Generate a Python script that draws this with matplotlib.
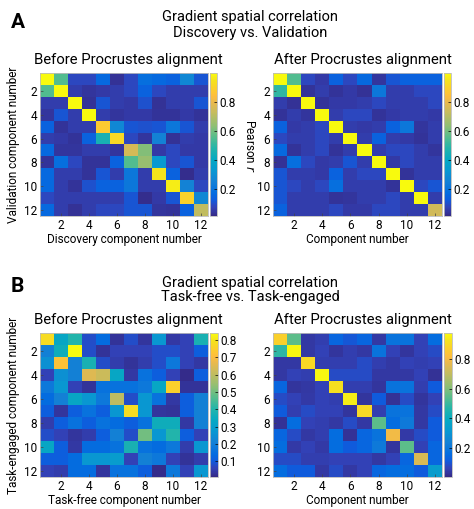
import numpy as np
import matplotlib
matplotlib.use("Agg")
import matplotlib.pyplot as plt
from matplotlib.colors import LinearSegmentedColormap

plt.rcParams["font.family"] = ["Roboto", "DejaVu Sans"]

# correlation matrices (rows = validation / task-engaged)
disc_before = [
    [1.00, 0.55, 0.08, 0.08, 0.16, 0.03, 0.08, 0.18, 0.16, 0.14, 0.27, 0.11],
    [0.55, 1.00, 0.06, 0.04, 0.05, 0.06, 0.08, 0.14, 0.08, 0.06, 0.06, 0.06],
    [0.06, 0.06, 1.00, 0.03, 0.11, 0.06, 0.05, 0.10, 0.03, 0.06, 0.06, 0.11],
    [0.04, 0.11, 0.06, 1.00, 0.06, 0.04, 0.05, 0.05, 0.035, 0.035, 0.05, 0.035],
    [0.14, 0.035, 0.06, 0.06, 0.88, 0.27, 0.11, 0.10, 0.11, 0.21, 0.11, 0.06],
    [0.06, 0.05, 0.035, 0.14, 0.45, 0.92, 0.08, 0.04, 0.25, 0.03, 0.06, 0.05],
    [0.16, 0.04, 0.04, 0.06, 0.06, 0.04, 0.76, 0.62, 0.05, 0.08, 0.05, 0.05],
    [0.035, 0.18, 0.08, 0.035, 0.035, 0.14, 0.55, 0.65, 0.33, 0.08, 0.11, 0.05],
    [0.16, 0.06, 0.06, 0.035, 0.11, 0.06, 0.21, 0.06, 0.95, 0.14, 0.02, 0.06],
    [0.16, 0.06, 0.035, 0.10, 0.14, 0.14, 0.21, 0.06, 0.06, 0.97, 0.25, 0.08],
    [0.08, 0.06, 0.06, 0.06, 0.06, 0.06, 0.11, 0.02, 0.05, 0.11, 0.90, 0.27],
    [0.16, 0.06, 0.03, 0.06, 0.08, 0.08, 0.11, 0.11, 0.04, 0.035, 0.14, 0.72],
]
disc_after = [
    [1.00, 0.55, 0.08, 0.05, 0.14, 0.08, 0.16, 0.04, 0.11, 0.14, 0.14, 0.14],
    [0.50, 1.00, 0.035, 0.06, 0.035, 0.05, 0.03, 0.21, 0.06, 0.06, 0.08, 0.08],
    [0.06, 0.03, 1.00, 0.035, 0.05, 0.05, 0.06, 0.08, 0.06, 0.06, 0.06, 0.08],
    [0.035, 0.06, 0.04, 1.00, 0.06, 0.08, 0.08, 0.035, 0.05, 0.06, 0.06, 0.05],
    [0.14, 0.05, 0.06, 0.08, 1.00, 0.06, 0.05, 0.06, 0.14, 0.21, 0.04, 0.06],
    [0.08, 0.06, 0.06, 0.08, 0.06, 1.00, 0.06, 0.14, 0.06, 0.05, 0.035, 0.06],
    [0.16, 0.035, 0.06, 0.08, 0.035, 0.06, 1.00, 0.06, 0.08, 0.08, 0.06, 0.04],
    [0.03, 0.18, 0.08, 0.05, 0.06, 0.11, 0.06, 1.00, 0.05, 0.08, 0.06, 0.06],
    [0.11, 0.06, 0.06, 0.05, 0.14, 0.06, 0.08, 0.08, 1.00, 0.035, 0.06, 0.06],
    [0.11, 0.08, 0.06, 0.08, 0.18, 0.06, 0.06, 0.06, 0.035, 1.00, 0.08, 0.11],
    [0.11, 0.06, 0.06, 0.06, 0.035, 0.04, 0.06, 0.06, 0.08, 0.06, 1.00, 0.06],
    [0.14, 0.06, 0.06, 0.06, 0.08, 0.05, 0.05, 0.08, 0.08, 0.06, 0.06, 0.75],
]
task_before = [
    [0.78, 0.33, 0.40, 0.08, 0.14, 0.03, 0.08, 0.035, 0.27, 0.04, 0.06, 0.38],
    [0.21, 0.36, 0.84, 0.08, 0.03, 0.06, 0.06, 0.06, 0.08, 0.08, 0.06, 0.11],
    [0.25, 0.72, 0.21, 0.38, 0.08, 0.05, 0.03, 0.05, 0.08, 0.18, 0.06, 0.04],
    [0.06, 0.25, 0.21, 0.65, 0.62, 0.33, 0.04, 0.16, 0.11, 0.06, 0.015, 0.11],
    [0.18, 0.27, 0.06, 0.03, 0.16, 0.16, 0.16, 0.18, 0.33, 0.75, 0.03, 0.03],
    [0.14, 0.21, 0.33, 0.27, 0.18, 0.60, 0.08, 0.27, 0.16, 0.04, 0.11, 0.21],
    [0.11, 0.035, 0.11, 0.16, 0.11, 0.27, 0.78, 0.27, 0.035, 0.03, 0.11, 0.21],
    [0.05, 0.11, 0.16, 0.11, 0.16, 0.14, 0.11, 0.16, 0.36, 0.36, 0.04, 0.21],
    [0.08, 0.06, 0.035, 0.05, 0.11, 0.21, 0.08, 0.50, 0.27, 0.40, 0.11, 0.06],
    [0.33, 0.11, 0.04, 0.14, 0.14, 0.16, 0.38, 0.16, 0.14, 0.18, 0.05, 0.27],
    [0.11, 0.11, 0.14, 0.27, 0.27, 0.29, 0.06, 0.21, 0.18, 0.06, 0.03, 0.05],
    [0.06, 0.05, 0.14, 0.14, 0.035, 0.16, 0.16, 0.11, 0.015, 0.18, 0.06, 0.27],
]
task_after = [
    [0.88, 0.55, 0.035, 0.05, 0.14, 0.10, 0.14, 0.035, 0.18, 0.18, 0.06, 0.16],
    [0.48, 0.97, 0.035, 0.06, 0.03, 0.05, 0.035, 0.18, 0.06, 0.03, 0.06, 0.08],
    [0.035, 0.035, 0.90, 0.05, 0.05, 0.05, 0.08, 0.05, 0.035, 0.06, 0.05, 0.06],
    [0.035, 0.06, 0.05, 0.97, 0.08, 0.08, 0.08, 0.035, 0.035, 0.035, 0.06, 0.02],
    [0.14, 0.03, 0.035, 0.06, 0.92, 0.05, 0.05, 0.03, 0.18, 0.18, 0.05, 0.11],
    [0.08, 0.06, 0.04, 0.06, 0.05, 0.95, 0.03, 0.11, 0.02, 0.08, 0.03, 0.06],
    [0.11, 0.05, 0.08, 0.06, 0.06, 0.03, 0.90, 0.05, 0.18, 0.18, 0.035, 0.08],
    [0.02, 0.16, 0.06, 0.05, 0.035, 0.08, 0.035, 0.55, 0.16, 0.21, 0.035, 0.11],
    [0.14, 0.08, 0.035, 0.05, 0.16, 0.02, 0.14, 0.18, 0.80, 0.04, 0.08, 0.11],
    [0.16, 0.04, 0.06, 0.04, 0.16, 0.11, 0.14, 0.21, 0.03, 0.55, 0.06, 0.14],
    [0.08, 0.08, 0.05, 0.05, 0.06, 0.06, 0.06, 0.035, 0.06, 0.14, 0.75, 0.14],
    [0.16, 0.11, 0.11, 0.035, 0.08, 0.035, 0.06, 0.14, 0.16, 0.16, 0.11, 0.33],
]

comp_ticks = [2, 4, 6, 8, 10, 12]
clims = [(0.01, 1.0), (0.01, 1.0), (0.01, 0.84), (0.0, 0.98)]
cbar_ticks = [
    [0.2, 0.4, 0.6, 0.8],
    [0.2, 0.4, 0.6, 0.8],
    [0.1, 0.2, 0.3, 0.4, 0.5, 0.6, 0.7, 0.8],
    [0.2, 0.4, 0.6, 0.8],
]

# MATLAB parula, sampled
parula = LinearSegmentedColormap.from_list("parula", [
    (0.000, (0.2081, 0.1663, 0.5292)),
    (0.063, (0.1959, 0.2645, 0.7279)),
    (0.111, (0.0591, 0.3598, 0.8683)),
    (0.159, (0.0165, 0.4266, 0.8786)),
    (0.238, (0.0779, 0.5040, 0.8384)),
    (0.317, (0.0343, 0.5966, 0.8199)),
    (0.397, (0.0267, 0.6642, 0.7607)),
    (0.476, (0.1453, 0.7098, 0.6646)),
    (0.556, (0.3482, 0.7424, 0.5473)),
    (0.635, (0.5709, 0.7485, 0.4494)),
    (0.714, (0.7525, 0.7384, 0.3768)),
    (0.794, (0.9139, 0.7258, 0.3063)),
    (0.841, (0.9938, 0.7455, 0.2403)),
    (0.889, (0.9880, 0.8066, 0.1794)),
    (0.952, (0.9589, 0.8949, 0.1132)),
    (1.000, (0.9763, 0.9831, 0.0538)),
])

W, H = 474, 509
fig = plt.figure(figsize=(W / 100, H / 100), dpi=100)


def px_axes(x0, y0, x1, y1):
    return fig.add_axes([x0 / W, 1 - y1 / H, (x1 - x0) / W, (y1 - y0) / H])


def heatmap(mat, box, cbox, clim, cticks, xlabel, ylabel=None):
    ax = px_axes(*box)
    im = ax.imshow(np.array(mat), cmap=parula, vmin=clim[0], vmax=clim[1],
                   aspect="auto", interpolation="nearest",
                   extent=(0.5, 12.5, 12.5, 0.5))
    ax.set_xticks(comp_ticks)
    ax.set_yticks(comp_ticks)
    ax.tick_params(labelsize=8.5, length=2, width=0.5, direction="in",
                   color="#444444", pad=2)
    ax.set_xlabel(xlabel, fontsize=8.5, labelpad=1)
    if ylabel:
        ax.set_ylabel(ylabel, fontsize=8.5, labelpad=3)
    for s in ax.spines.values():
        s.set_color("#bbbbbb")
        s.set_linewidth(0.6)
    cax = px_axes(*cbox)
    cb = fig.colorbar(im, cax=cax, ticks=cticks)
    cb.ax.tick_params(labelsize=8.5, length=2, width=0.5, direction="in", pad=2)
    cb.outline.set_edgecolor("#bbbbbb")
    cb.outline.set_linewidth(0.6)
    return ax


heatmap(disc_before, (40, 73, 208, 216), (210, 73, 217, 216), clims[0], cbar_ticks[0],
        "Discovery component number", "Validation component number")
heatmap(disc_after, (273, 73, 442, 216), (444, 73, 451, 216), clims[1], cbar_ticks[1],
        "Component number")
heatmap(task_before, (40, 333, 208, 477), (210, 333, 218, 477), clims[2], cbar_ticks[2],
        "Task-free component number", "Task-engaged component number")
heatmap(task_after, (273, 333, 442, 477), (444, 333, 452, 477), clims[3], cbar_ticks[3],
        "Component number")

fig.text(249 / W, 1 - 146 / H, "Pearson $r$", rotation=-90, fontsize=8.5,
         ha="center", va="center")


def ftext(x, y, s, **kw):
    fig.text(x / W, 1 - y / H, s, **kw)


ftext(11, 28, "A", fontsize=15, fontweight="bold", va="baseline")
ftext(11, 292, "B", fontsize=15, fontweight="bold", va="baseline")
ftext(250, 21, "Gradient spatial correlation", fontsize=10.5, ha="center", va="baseline")
ftext(250, 37, "Discovery vs. Validation", fontsize=10.5, ha="center", va="baseline")
ftext(250, 287, "Gradient spatial correlation", fontsize=10.5, ha="center", va="baseline")
ftext(250, 301, "Task-free vs. Task-engaged", fontsize=10.5, ha="center", va="baseline")
for y in (64, 324):
    ftext(128, y, "Before Procrustes alignment", fontsize=10.7, ha="center", va="baseline")
    ftext(363, y, "After Procrustes alignment", fontsize=10.7, ha="center", va="baseline")

fig.savefig("out.png", dpi=100)
